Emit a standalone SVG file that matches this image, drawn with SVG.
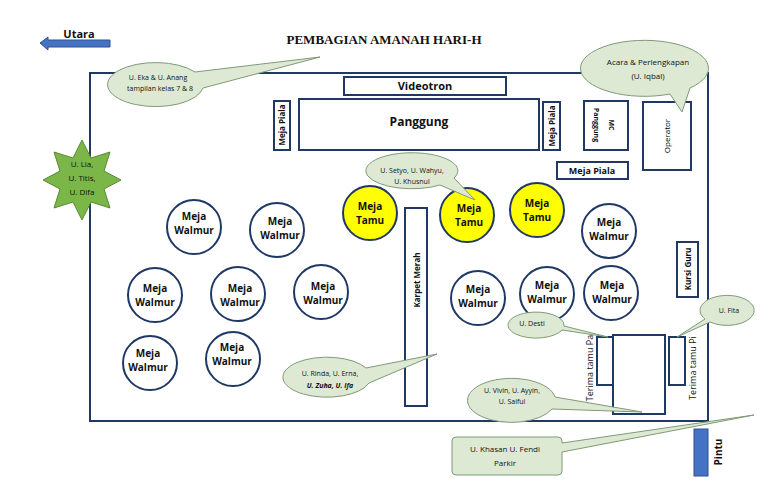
<svg xmlns="http://www.w3.org/2000/svg" width="768" height="503" viewBox="0 0 768 503">
<style>
.b{fill:#fff;stroke:#1f3864;stroke-width:2}
.c{fill:#fff;stroke:#1f3864;stroke-width:2}
.y{fill:#ffff00;stroke:#1f3864;stroke-width:2}
.co{fill:#dde9d3;stroke:#7f9a78;stroke-width:1}
text{font-family:"Open Sans","Liberation Sans",sans-serif;fill:#111;text-anchor:middle}
.t{font-size:10px;font-weight:bold}
.s{font-size:7px}
</style>
<rect width="768" height="503" fill="#fff"/>
<g id="title"><text x="384" y="44" style="font-family:'Liberation Serif',serif;font-weight:bold;font-size:13px">PEMBAGIAN AMANAH HARI-H</text></g>
<g id="utara"><polygon points="40,43 48,37 48,40 110,40 110,47 48,47 48,50" fill="#4472c4" stroke="#2f528f"/><text x="79" y="38" style="font-size:11px;font-weight:bold">Utara</text></g>
<g id="hall"><rect x="90" y="73" width="618" height="348" fill="none" stroke="#1f3864" stroke-width="2"/></g>
<g id="videotron"><rect class="b" x="344" y="77" width="162" height="18"/><text x="425" y="90" style="font-size:11px;font-weight:bold">Videotron</text></g>
<g id="panggung"><rect class="b" x="299" y="99" width="240" height="51"/><text x="419" y="126" style="font-size:12px;font-weight:bold">Panggung</text></g>
<g id="piala1"><rect class="b" x="274" y="101" width="16" height="49"/><text class="t" transform="translate(285,125) rotate(-90)" style="font-size:8px">Meja Piala</text></g>
<g id="piala2"><rect class="b" x="543" y="102" width="17" height="48"/><text class="t" transform="translate(555,126) rotate(-90)" style="font-size:8px">Meja Piala</text></g>
<g id="mc"><rect class="b" x="584" y="101" width="44" height="49"/><text class="t" transform="translate(594,125) rotate(90)" style="font-size:7px">Panggung</text><text class="t" transform="translate(609,125) rotate(90)" style="font-size:7px">MC</text></g>
<g id="operator"><rect class="b" x="643" y="102" width="48" height="68"/><text transform="translate(670,136) rotate(-90)" style="font-size:8px;fill:#000">Operator</text></g>
<g id="piala3"><rect class="b" x="557" y="162" width="71" height="17"/><text class="t" x="592" y="174" style="font-size:9px">Meja Piala</text></g>
<g id="karpet"><rect class="b" x="405" y="208" width="22" height="198"/><text transform="translate(420,280) rotate(-90)" style="font-size:8px;font-weight:bold">Karpet Merah</text></g>
<g id="kursi"><rect class="b" x="677" y="242" width="21" height="55"/><text class="t" transform="translate(691,269) rotate(-90)" style="font-size:8px">Kursi Guru</text></g>
<g id="tamu1"><circle class="y" cx="370" cy="213" r="27"/><text class="t" x="370" y="210">Meja</text><text class="t" x="370" y="224">Tamu</text></g>
<g id="tamu2"><circle class="y" cx="467" cy="215" r="27"/><text class="t" x="469" y="212">Meja</text><text class="t" x="469" y="226">Tamu</text></g>
<g id="tamu3"><circle class="y" cx="537" cy="210" r="27"/><text class="t" x="537" y="207">Meja</text><text class="t" x="537" y="221">Tamu</text></g>
<g id="w1"><circle class="c" cx="194" cy="227" r="27"/><text class="t" x="194" y="220">Meja</text><text class="t" x="194" y="234">Walmur</text></g>
<g id="w2"><circle class="c" cx="277" cy="230" r="27"/><text class="t" x="280" y="225">Meja</text><text class="t" x="280" y="239">Walmur</text></g>
<g id="w3"><circle class="c" cx="155" cy="295" r="27"/><text class="t" x="155" y="292">Meja</text><text class="t" x="155" y="306">Walmur</text></g>
<g id="w4"><circle class="c" cx="238" cy="294" r="27"/><text class="t" x="240" y="292">Meja</text><text class="t" x="240" y="306">Walmur</text></g>
<g id="w5"><circle class="c" cx="321" cy="292" r="27"/><text class="t" x="323" y="290">Meja</text><text class="t" x="323" y="304">Walmur</text></g>
<g id="w6"><circle class="c" cx="150" cy="363" r="27"/><text class="t" x="148" y="357">Meja</text><text class="t" x="148" y="371">Walmur</text></g>
<g id="w7"><circle class="c" cx="233" cy="359" r="27"/><text class="t" x="232" y="351">Meja</text><text class="t" x="232" y="365">Walmur</text></g>
<g id="w8"><circle class="c" cx="609" cy="231" r="27"/><text class="t" x="609" y="226">Meja</text><text class="t" x="609" y="240">Walmur</text></g>
<g id="w9"><circle class="c" cx="478" cy="298" r="27"/><text class="t" x="478" y="293">Meja</text><text class="t" x="478" y="307">Walmur</text></g>
<g id="w10"><circle class="c" cx="547" cy="294" r="27"/><text class="t" x="547" y="289">Meja</text><text class="t" x="547" y="303">Walmur</text></g>
<g id="w11"><circle class="c" cx="611" cy="293" r="27"/><text class="t" x="612" y="289">Meja</text><text class="t" x="612" y="303">Walmur</text></g>
<g id="pa"><rect class="b" x="597" y="337" width="16" height="48"/><text transform="translate(593,368) rotate(-90)" style="font-size:9px">Terima tamu Pa</text></g>
<g id="meja"><rect class="b" x="613" y="335" width="52" height="79"/></g>
<g id="pi"><rect class="b" x="669" y="337" width="16" height="48"/><text transform="translate(696,368) rotate(-90)" style="font-size:9px">Terima tamu Pi</text></g>
<g id="pintu"><rect x="694" y="429" width="14" height="47" fill="#4472c4" stroke="#2f528f"/><text transform="translate(722,452) rotate(-90)" style="font-size:10px;font-weight:bold">Pintu</text></g>
<g id="star"><polygon points="82,140 91,158 110,152 104,171 121,180 104,189 110,208 91,202 82,220 73,202 54,208 60,189 43,180 60,171 54,152 73,158" fill="#7ab648" stroke="#5a8a34"/><text x="82" y="167" style="font-size:8px">U. Lia,</text><text x="82" y="181" style="font-size:8px">U. Titis,</text><text x="82" y="195" style="font-size:8px">U. Difa</text></g>
<g id="connectors">
<g id="c-eka"><path class="co" d="M195,72 L320,57 L203,88 A48,22 0 1 1 195,72 Z"/><text class="s" x="158" y="80">U. Eka &amp; U. Anang</text><text class="s" x="160" y="91">tampilan kelas 7 &amp; 8</text></g>
<g id="c-acara"><path class="co" d="M670,94 L682,112 L690,88 A64,28 0 1 0 670,94 Z"/><text x="648" y="65" style="font-size:8px">Acara &amp; Perlengkapan</text><text x="648" y="79" style="font-size:8px">(U. Iqbal)</text></g>
<g id="c-setyo"><path class="co" d="M440,185 L475,200 L454,178 A46,18 0 1 0 440,185 Z"/><text class="s" x="412" y="173">U. Setyo, U. Wahyu,</text><text class="s" x="412" y="184">U. Khusnul</text></g>
<g id="c-rinda"><path class="co" d="M366,368 L437,354 L369,383 A44,20 0 1 1 366,368 Z"/><text class="s" x="330" y="376">U. Rinda,  U. Erna,</text><text class="s" x="330" y="388" style="font-weight:bold;font-style:italic">U. Zuha, U. Ifa</text></g>
<g id="c-desti"><path class="co" d="M564,326 L608,337 L562,330 A28,13 0 1 1 564,326 Z"/><text class="s" x="532" y="326">U. Desti</text></g>
<g id="c-fita"><path class="co" d="M710,322 L677,337 L705,319 A27,15 0 1 1 710,322 Z"/><text class="s" x="729" y="313">U. Fita</text></g>
<g id="c-vivin"><path class="co" d="M555,397 L642,412 L552,409 A44,22 0 1 1 555,397 Z"/><text class="s" x="512" y="393">U. Vivin, U. Ayyin,</text><text class="s" x="512" y="404">U. Saiful</text></g>
<g id="c-khasan"><path class="co" d="M456,437 L558,437 Q562,437 562,441 L562,443 L754,415 L562,452 L562,471 Q562,475 558,475 L456,475 Q452,475 452,471 L452,441 Q452,437 456,437 Z"/><text x="505" y="452" style="font-size:8px">U. Khasan U. Fendi</text><text x="505" y="466" style="font-size:8px">Parkir</text></g>
</g>
</svg>
